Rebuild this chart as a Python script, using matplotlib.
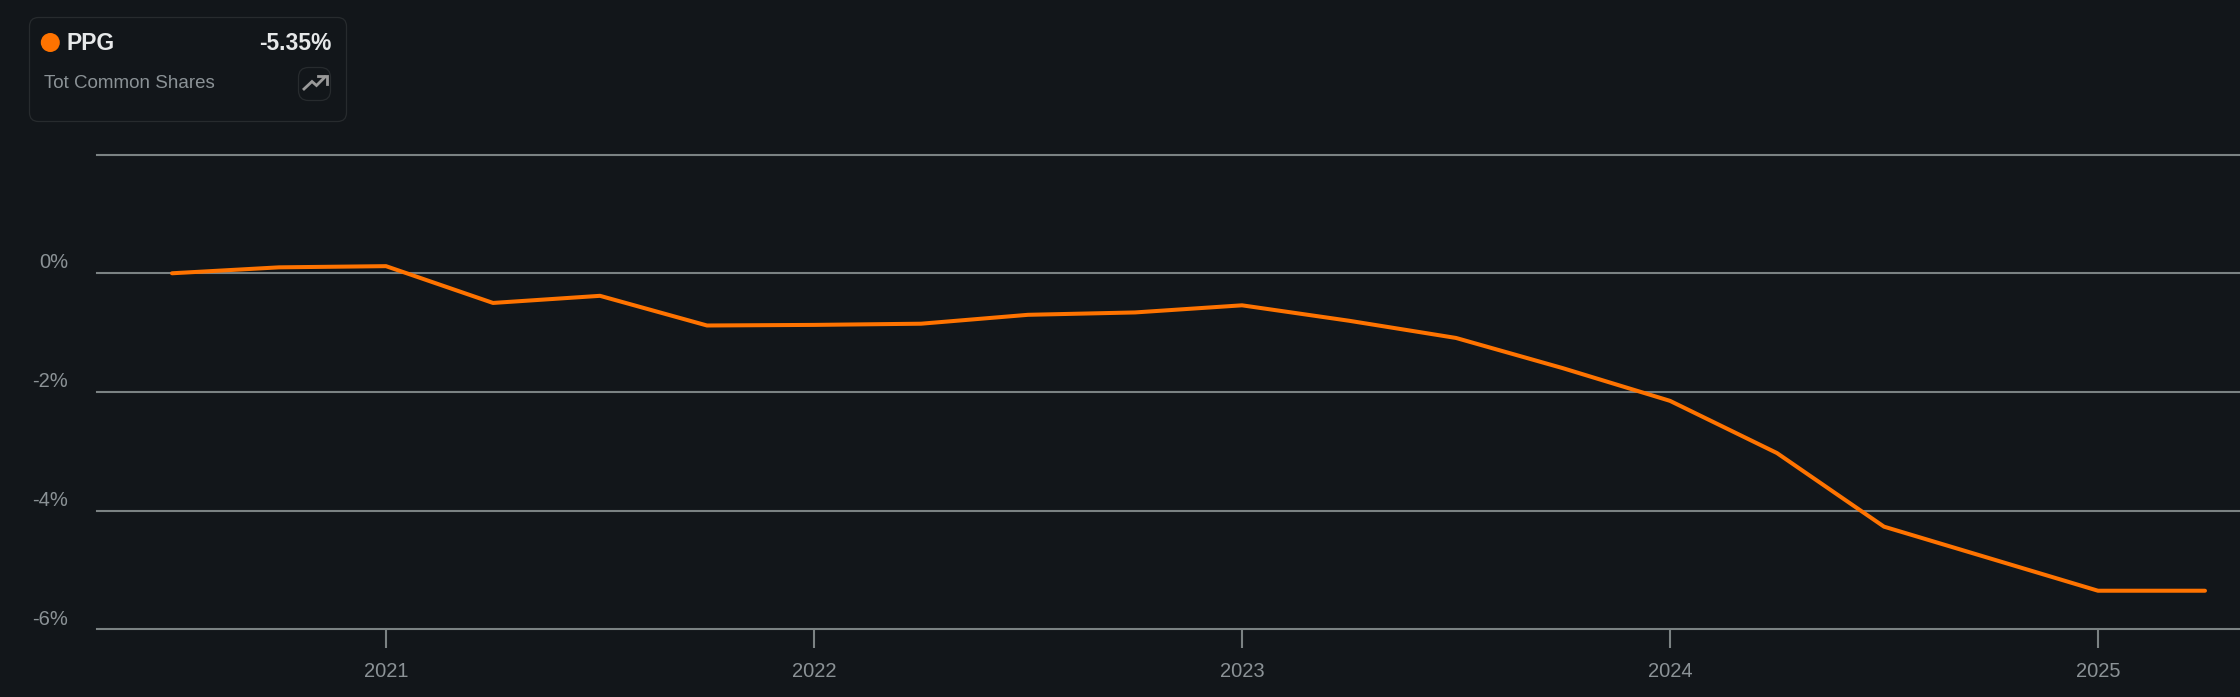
import numpy as np
import matplotlib
matplotlib.use('Agg')
import matplotlib.pyplot as plt
from matplotlib.patches import FancyBboxPatch, Circle

plt.rcParams['font.family'] = ['Liberation Sans', 'DejaVu Sans']

# quarterly points, mid 2020 to Q2 2025
quarters = [2020.5, 2020.75, 2021.0, 2021.25, 2021.5, 2021.75, 2022.0, 2022.25, 2022.5, 2022.75,
            2023.0, 2023.25, 2023.5, 2023.75, 2024.0, 2024.25, 2024.5, 2024.75, 2025.0, 2025.25]
shares_pct = [0.0, 0.1, 0.12, -0.5, -0.38, -0.88, -0.87, -0.85, -0.7, -0.66,
              -0.54, -0.8, -1.09, -1.6, -2.15, -3.03, -4.27, -4.81, -5.35, -5.35]

year_ticks = [2021, 2022, 2023, 2024, 2025]
pct_ticks = [-6, -4, -2, 0, 2]
pct_labels = ['-6%', '-4%', '-2%', '0%', '']

BG = '#12161a'
ORANGE = '#ff7300'
GRID = '#7b8283'
TEXT = '#8b9296'

W, H = 2240, 697
fig = plt.figure(figsize=(W / 100, H / 100), dpi=100, facecolor=BG)

left, right, top, bottom = 96.5, 2240, 154.6, 629.3
ax = fig.add_axes([left / W, 1 - bottom / H, (right - left) / W, (bottom - top) / H], facecolor=BG)

ax.plot(quarters, shares_pct, color=ORANGE, linewidth=2.9, solid_capstyle='round',
        solid_joinstyle='round', zorder=3)

ax.set_xlim(2020.3236, 2025.3318)
ax.set_ylim(-6, 2)
for s in ax.spines.values():
    s.set_visible(False)

ax.set_yticks(pct_ticks)
ax.set_yticklabels([])
ax.tick_params(axis='y', length=0)
ax.grid(True, axis='y', color=GRID, linewidth=1.5)
for l in ax.get_ygridlines():
    l.set_clip_on(False)

ax.set_xticks(year_ticks)
ax.set_xticklabels([str(y) for y in year_ticks], fontsize=14.5, color=TEXT)
ax.tick_params(axis='x', length=13.5, width=1.5, color=GRID, pad=10)

for v, lab in zip(pct_ticks, pct_labels):
    ax.annotate(lab, (0, v), xycoords=ax.get_yaxis_transform(), xytext=(-20.4, 7.4),
                textcoords='offset points', ha='right', va='center', fontsize=14.5, color=TEXT)

# legend card, drawn in pixel coords
ov = fig.add_axes([0, 0, 1, 1], facecolor='none')
ov.set_xlim(0, W)
ov.set_ylim(H, 0)
ov.axis('off')

ov.add_patch(FancyBboxPatch((29.5, 17.5), 317, 104, boxstyle='round,pad=0,rounding_size=9',
                            fc=BG, ec='#272b2e', lw=0.9))
ov.add_patch(Circle((50.3, 42.5), 9.5, fc=ORANGE, ec='none'))
ov.text(67, 41.3, 'PPG', fontsize=16.5, fontweight='bold', color='#e6e8e9', va='center_baseline')
ov.text(331, 41.3, '-5.35%', fontsize=16.5, fontweight='bold', color='#e6e8e9', ha='right',
        va='center_baseline')
ov.text(44.5, 81.5, 'Tot Common Shares', fontsize=13.5, color=TEXT, va='center_baseline')

ov.add_patch(FancyBboxPatch((298.5, 67.5), 32, 33, boxstyle='round,pad=0,rounding_size=10',
                            fc=BG, ec='#272b2e', lw=0.9))
ov.plot([304, 312, 316.5, 325], [89, 81.5, 85.5, 77], color='#9a9a9a', lw=2.0, solid_joinstyle='miter')
ov.plot([318, 326.5, 326.5], [75.5, 75.5, 84], color='#9a9a9a', lw=2.0, solid_joinstyle='miter')

plt.savefig('out.png', dpi=100, facecolor=BG)
